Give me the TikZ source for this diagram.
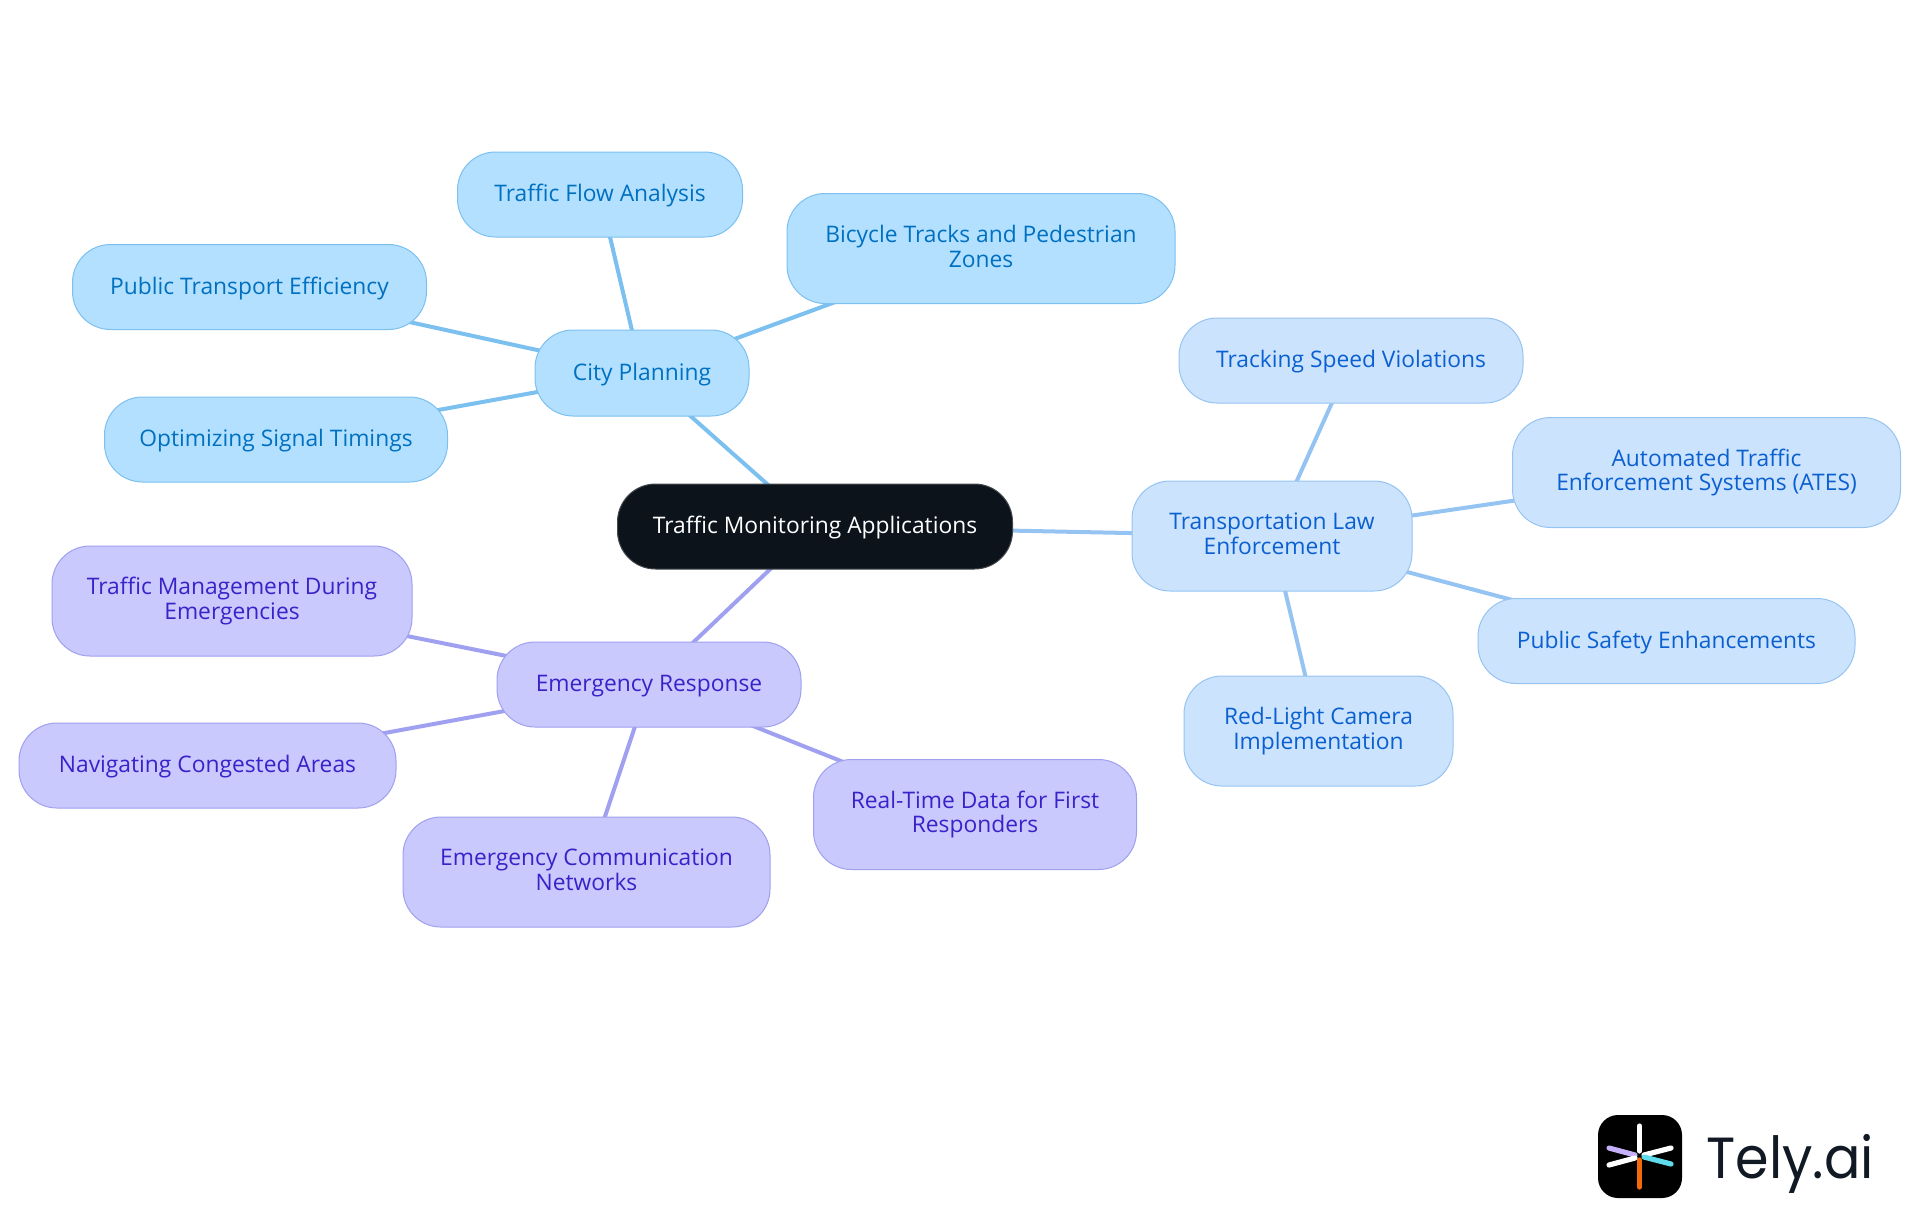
\documentclass[tikz,border=0pt]{standalone}
\usepackage{fontspec}
\setmainfont{Open Sans}
\newfontfamily\logofont[FakeStretch=0.93]{Poppins}
\usetikzlibrary{backgrounds}
\definecolor{cityfill}{HTML}{B3E0FF}
\definecolor{cityline}{HTML}{7CC0F0}
\definecolor{citytext}{HTML}{0070C0}
\definecolor{lawfill}{HTML}{CCE3FD}
\definecolor{lawline}{HTML}{96C4F2}
\definecolor{lawtext}{HTML}{0A60D0}
\definecolor{emgfill}{HTML}{C9C9FE}
\definecolor{emgline}{HTML}{A0A0F0}
\definecolor{emgtext}{HTML}{3A22C8}
\definecolor{rootfill}{HTML}{0C131B}
\definecolor{rootline}{HTML}{45494E}
\definecolor{logoink}{HTML}{111A24}
\definecolor{logopurple}{HTML}{C4B0F8}
\definecolor{logocyan}{HTML}{5FDCEC}
\definecolor{logoorange}{HTML}{F26A0C}
\tikzset{
  x=0.5pt,y=-0.5pt,
  sz/.style 2 args={minimum width=#1*0.5pt,minimum height=#2*0.5pt},
  box/.style={rectangle,rounded corners=19pt,line width=0.5pt,inner sep=0pt,align=center,
    font=\fontsize{11.4}{12.3}\selectfont,
    execute at begin node={\rule{0pt}{10pt}},
    execute at end node={\rule[-2.3pt]{0pt}{2.3pt}}},
  citybox/.style={box,draw=cityline,fill=cityfill,text=citytext},
  lawbox/.style={box,draw=lawline,fill=lawfill,text=lawtext},
  emgbox/.style={box,draw=emgline,fill=emgfill,text=emgtext},
  rootbox/.style={box,draw=rootline,fill=rootfill,text=white},
  cityedge/.style={draw=cityline,line width=2pt},
  lawedge/.style={draw=lawline,line width=2pt},
  emgedge/.style={draw=emgline,line width=2pt},
  spoke/.style={line width=2.6pt,line cap=round},
}
\begin{document}
\begin{tikzpicture}
\useasboundingbox (0,0) rectangle (1920,1215);
\node[rootbox,sz={395}{85}] (root) at (815,526.5) {Traffic Monitoring Applications};
\node[citybox,sz={214}{86}] (city) at (642,373) {City Planning};
\node[lawbox,sz={280}{110}] (law) at (1272,536) {Transportation Law\\Enforcement};
\node[emgbox,sz={304}{85}] (emg) at (649,684.5) {Emergency Response};
\node[citybox,sz={285}{85}] (flow) at (600,194.5) {Traffic Flow Analysis};
\node[citybox,sz={388}{110}] (bike) at (981,248.5) {Bicycle Tracks and Pedestrian\\Zones};
\node[citybox,sz={354}{85}] (transit) at (249.5,287) {Public Transport Efficiency};
\node[citybox,sz={343}{85}] (signal) at (276,439.5) {Optimizing Signal Timings};
\node[lawbox,sz={344}{85}] (speed) at (1351,360.5) {Tracking Speed Violations};
\node[lawbox,sz={388}{110}] (ates) at (1706.5,472.5) {Automated Traffic\\Enforcement Systems (ATES)};
\node[lawbox,sz={377}{85}] (safety) at (1666.5,641) {Public Safety Enhancements};
\node[lawbox,sz={269}{110}] (camera) at (1318.5,731) {Red-Light Camera\\Implementation};
\node[emgbox,sz={360}{110}] (mgmt) at (232,601) {Traffic Management During\\Emergencies};
\node[emgbox,sz={377}{85}] (congest) at (207.5,765.5) {Navigating Congested Areas};
\node[emgbox,sz={367}{110}] (comm) at (586.5,872) {Emergency Communication\\Networks};
\node[emgbox,sz={323}{110}] (realtime) at (975,814.5) {Real-Time Data for First\\Responders};
\begin{scope}[on background layer]
\draw[cityedge] (root.center) -- (city.center);
\draw[cityedge] (city.center) -- (flow.center);
\draw[cityedge] (city.center) -- (bike.center);
\draw[cityedge] (city.center) -- (transit.center);
\draw[cityedge] (city.center) -- (signal.center);
\draw[lawedge] (root.center) -- (law.center);
\draw[lawedge] (law.center) -- (speed.center);
\draw[lawedge] (law.center) -- (ates.center);
\draw[lawedge] (law.center) -- (safety.center);
\draw[lawedge] (law.center) -- (camera.center);
\draw[emgedge] (root.center) -- (emg.center);
\draw[emgedge] (emg.center) -- (mgmt.center);
\draw[emgedge] (emg.center) -- (congest.center);
\draw[emgedge] (emg.center) -- (comm.center);
\draw[emgedge] (emg.center) -- (realtime.center);
\end{scope}
% logo
\fill[black,rounded corners=10pt] (1598,1115) rectangle (1682,1198);
\draw[spoke,white] (1639.5,1126) -- (1639.5,1151);
\draw[spoke,logoorange] (1639.5,1160) -- (1639.5,1187);
\draw[spoke,logopurple] (1609,1148) -- (1635,1155);
\draw[spoke,white] (1609,1165) -- (1635,1158);
\draw[spoke,white] (1671,1148) -- (1644,1155);
\draw[spoke,logocyan] (1644,1157) -- (1671,1164);
\node[inner sep=0pt,anchor=base west,text=logoink,font=\logofont\fontsize{29}{29}\selectfont] (brand) at (1706,1178) {Tely.ai};
\end{tikzpicture}
\end{document}
